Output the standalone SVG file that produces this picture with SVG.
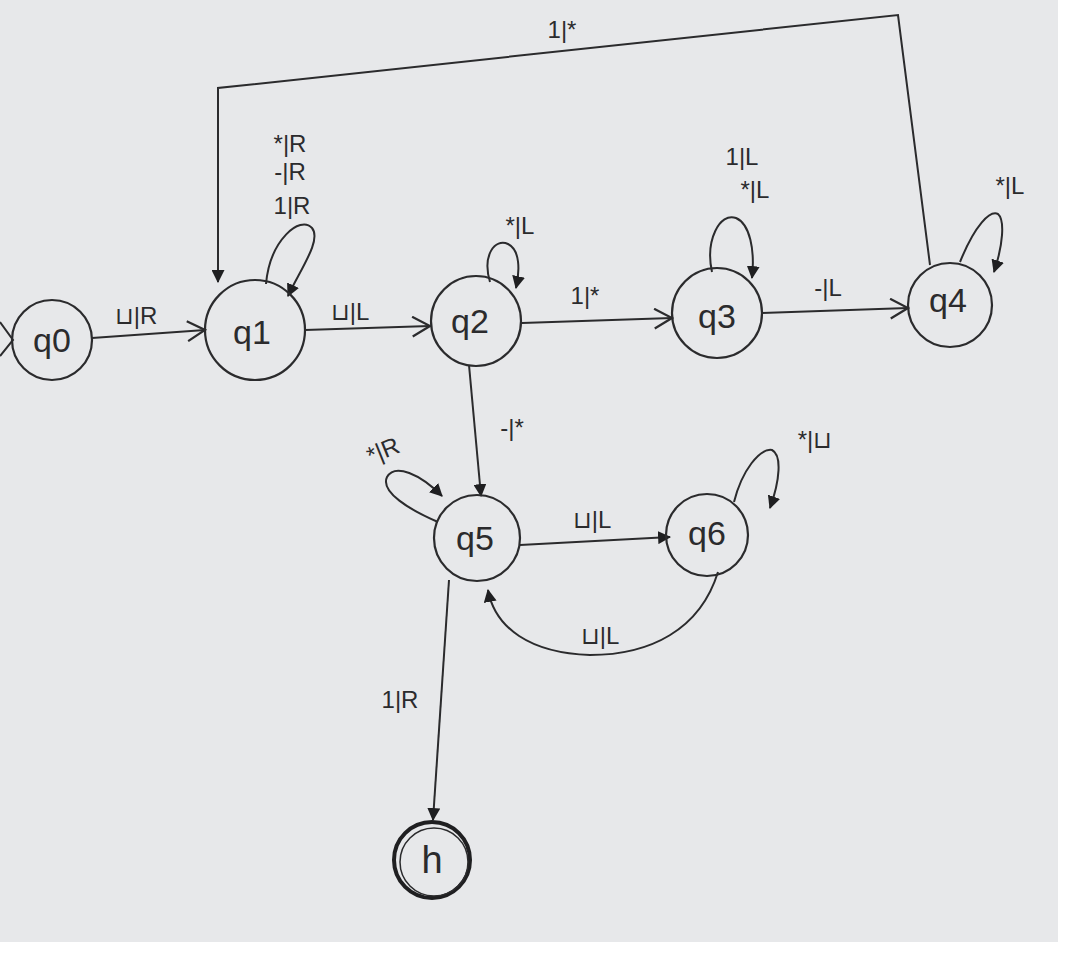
<svg xmlns="http://www.w3.org/2000/svg" width="1072" height="964" viewBox="0 0 1072 964">
<style>
.st{fill:none;stroke:#2b2b2d;stroke-width:2.2}
.e{fill:none;stroke:#2b2b2d;stroke-width:2}
.sl{font-family:"Liberation Sans",Arial,sans-serif;font-size:34px;fill:#2b2b2d;text-anchor:middle;dominant-baseline:central}
.lb{font-family:"Liberation Sans",Arial,sans-serif;font-size:24px;fill:#2b2b2d;text-anchor:middle}
</style>
<defs>
<marker id="chev" viewBox="0 0 20 20" refX="18" refY="10" markerWidth="22" markerHeight="22" markerUnits="userSpaceOnUse" orient="auto">
<path d="M2,1 L18,10 L2,19" fill="none" stroke="#2b2b2d" stroke-width="2"/>
</marker>
<marker id="tri" viewBox="0 0 12 12" refX="11" refY="6" markerWidth="13" markerHeight="13" markerUnits="userSpaceOnUse" orient="auto">
<path d="M0,0 L12,6 L0,12 Z" fill="#1f1f21"/>
</marker>
</defs>
<rect x="0" y="0" width="1072" height="964" fill="#ffffff"/>
<rect x="0" y="0" width="1058" height="942" fill="#e7e8ea"/>

<g id="connectors">
  <path class="e" d="M0,322 L13,340 L0,356"/>
  <path class="e" d="M92,338 L205,330" marker-end="url(#chev)"/>
  <text class="lb" x="136" y="324">⊔|R</text>
  <path class="e" d="M305,330 L430,326" marker-end="url(#chev)"/>
  <text class="lb" x="350" y="320">⊔|L</text>
  <path class="e" d="M522,323 L672,318" marker-end="url(#chev)"/>
  <text class="lb" x="585" y="304">1|*</text>
  <path class="e" d="M762,313 L908,308" marker-end="url(#chev)"/>
  <text class="lb" x="828" y="296">-|L</text>
  <path class="e" d="M930,265 L898,15 L218,88 L218,282" marker-end="url(#tri)"/>
  <text class="lb" x="562" y="38">1|*</text>
  <path class="e" d="M266,284 C270,240 300,215 312,228 C322,240 300,270 288,296" marker-end="url(#tri)"/>
  <text class="lb" x="290" y="152">*|R</text>
  <text class="lb" x="290" y="180">-|R</text>
  <text class="lb" x="292" y="214">1|R</text>
  <path class="e" d="M490,282 C482,255 495,238 508,244 C520,250 520,270 516,288" marker-end="url(#tri)"/>
  <text class="lb" x="520" y="234">*|L</text>
  <path class="e" d="M712,272 C705,240 720,212 736,218 C750,224 755,250 752,278" marker-end="url(#tri)"/>
  <text class="lb" x="742" y="165">1|L</text>
  <text class="lb" x="755" y="198">*|L</text>
  <path class="e" d="M960,262 C975,225 990,210 998,214 C1005,220 1003,245 994,272" marker-end="url(#tri)"/>
  <text class="lb" x="1010" y="194">*|L</text>
  <path class="e" d="M469,365 L481,496" marker-end="url(#tri)"/>
  <text class="lb" x="512" y="436">-|*</text>
  <path class="e" d="M438,522 C410,510 380,492 387,477 C395,463 420,474 442,496" marker-end="url(#tri)"/>
  <text class="lb" x="386" y="458" transform="rotate(-22 386 458)">*|R</text>
  <path class="e" d="M520,545 L670,537" marker-end="url(#tri)"/>
  <text class="lb" x="592" y="528">⊔|L</text>
  <path class="e" d="M734,502 C742,470 760,448 772,450 C782,455 780,480 770,508" marker-end="url(#tri)"/>
  <text class="lb" x="815" y="448">*|⊔</text>
  <path class="e" d="M718,572 C700,630 650,655 590,655 C530,653 495,628 488,590" marker-end="url(#tri)"/>
  <text class="lb" x="600" y="644">⊔|L</text>
  <path class="e" d="M449,580 L433,820" marker-end="url(#tri)"/>
  <text class="lb" x="400" y="708">1|R</text>
</g>

<g id="q0"><circle class="st" cx="52" cy="340" r="40"/><text class="sl" x="52" y="340">q0</text></g>
<g id="q1"><circle class="st" cx="255" cy="330" r="50"/><text class="sl" x="252" y="332">q1</text></g>
<g id="q2"><circle class="st" cx="476" cy="321" r="45"/><text class="sl" x="470" y="321">q2</text></g>
<g id="q3"><circle class="st" cx="717" cy="313" r="45"/><text class="sl" x="717" y="316">q3</text></g>
<g id="q4"><circle class="st" cx="950" cy="305" r="42"/><text class="sl" x="948" y="300">q4</text></g>
<g id="q5"><circle class="st" cx="477" cy="538" r="43"/><text class="sl" x="475" y="538">q5</text></g>
<g id="q6"><circle class="st" cx="707" cy="535" r="41"/><text class="sl" x="707" y="533">q6</text></g>
<g id="h"><circle cx="432" cy="860" r="38" fill="none" stroke="#1f1f21" stroke-width="4"/><circle cx="434" cy="862" r="34" fill="none" stroke="#2b2b2d" stroke-width="1.5"/><text class="sl" x="432" y="860" style="font-size:38px">h</text></g>
</svg>
